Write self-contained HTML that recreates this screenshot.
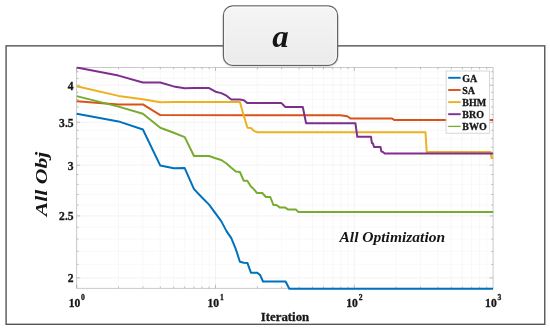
<!DOCTYPE html>
<html><head><meta charset="utf-8"><title>a</title>
<style>
html,body{margin:0;padding:0;background:#fff;}
body{width:550px;height:329px;position:relative;overflow:hidden;font-family:"Liberation Serif",serif;}
.t{font-family:"Liberation Serif",serif;font-weight:bold;fill:#161616;stroke:#161616;stroke-width:0.3px;}
.ti{font-family:"Liberation Serif",serif;font-weight:bold;font-style:italic;fill:#151515;}
</style></head><body>
<svg width="550" height="329" viewBox="0 0 550 329" style="position:absolute;left:0;top:0">
<defs><linearGradient id="lg" x1="0" y1="0" x2="0" y2="1"><stop offset="0" stop-color="#f5f5f5"/><stop offset="1" stop-color="#ebebeb"/></linearGradient><filter id="sh" x="-10%" y="-10%" width="120%" height="130%"><feGaussianBlur stdDeviation="1"/></filter></defs>
<rect x="6.1" y="45.85" width="538.65" height="278.45" fill="none" stroke="#555" stroke-width="1.4"/>
<line x1="118.5" y1="67.5" x2="118.5" y2="288.3" stroke="#f6f6f6" stroke-width="0.8"/>
<line x1="142.9" y1="67.5" x2="142.9" y2="288.3" stroke="#f6f6f6" stroke-width="0.8"/>
<line x1="160.3" y1="67.5" x2="160.3" y2="288.3" stroke="#f6f6f6" stroke-width="0.8"/>
<line x1="173.7" y1="67.5" x2="173.7" y2="288.3" stroke="#f6f6f6" stroke-width="0.8"/>
<line x1="184.7" y1="67.5" x2="184.7" y2="288.3" stroke="#f6f6f6" stroke-width="0.8"/>
<line x1="194.0" y1="67.5" x2="194.0" y2="288.3" stroke="#f6f6f6" stroke-width="0.8"/>
<line x1="202.0" y1="67.5" x2="202.0" y2="288.3" stroke="#f6f6f6" stroke-width="0.8"/>
<line x1="209.1" y1="67.5" x2="209.1" y2="288.3" stroke="#f6f6f6" stroke-width="0.8"/>
<line x1="215.5" y1="67.5" x2="215.5" y2="288.3" stroke="#efefef" stroke-width="0.8"/>
<line x1="257.3" y1="67.5" x2="257.3" y2="288.3" stroke="#f6f6f6" stroke-width="0.8"/>
<line x1="281.7" y1="67.5" x2="281.7" y2="288.3" stroke="#f6f6f6" stroke-width="0.8"/>
<line x1="299.1" y1="67.5" x2="299.1" y2="288.3" stroke="#f6f6f6" stroke-width="0.8"/>
<line x1="312.5" y1="67.5" x2="312.5" y2="288.3" stroke="#f6f6f6" stroke-width="0.8"/>
<line x1="323.5" y1="67.5" x2="323.5" y2="288.3" stroke="#f6f6f6" stroke-width="0.8"/>
<line x1="332.8" y1="67.5" x2="332.8" y2="288.3" stroke="#f6f6f6" stroke-width="0.8"/>
<line x1="340.8" y1="67.5" x2="340.8" y2="288.3" stroke="#f6f6f6" stroke-width="0.8"/>
<line x1="347.9" y1="67.5" x2="347.9" y2="288.3" stroke="#f6f6f6" stroke-width="0.8"/>
<line x1="354.3" y1="67.5" x2="354.3" y2="288.3" stroke="#efefef" stroke-width="0.8"/>
<line x1="396.1" y1="67.5" x2="396.1" y2="288.3" stroke="#f6f6f6" stroke-width="0.8"/>
<line x1="420.5" y1="67.5" x2="420.5" y2="288.3" stroke="#f6f6f6" stroke-width="0.8"/>
<line x1="437.9" y1="67.5" x2="437.9" y2="288.3" stroke="#f6f6f6" stroke-width="0.8"/>
<line x1="451.3" y1="67.5" x2="451.3" y2="288.3" stroke="#f6f6f6" stroke-width="0.8"/>
<line x1="462.3" y1="67.5" x2="462.3" y2="288.3" stroke="#f6f6f6" stroke-width="0.8"/>
<line x1="471.6" y1="67.5" x2="471.6" y2="288.3" stroke="#f6f6f6" stroke-width="0.8"/>
<line x1="479.6" y1="67.5" x2="479.6" y2="288.3" stroke="#f6f6f6" stroke-width="0.8"/>
<line x1="486.7" y1="67.5" x2="486.7" y2="288.3" stroke="#f6f6f6" stroke-width="0.8"/>
<line x1="76.7" y1="277.9" x2="493.1" y2="277.9" stroke="#f0f0f0" stroke-width="0.8"/>
<line x1="76.7" y1="264.4" x2="493.1" y2="264.4" stroke="#f7f7f7" stroke-width="0.8"/>
<line x1="76.7" y1="251.4" x2="493.1" y2="251.4" stroke="#f7f7f7" stroke-width="0.8"/>
<line x1="76.7" y1="239.1" x2="493.1" y2="239.1" stroke="#f7f7f7" stroke-width="0.8"/>
<line x1="76.7" y1="227.2" x2="493.1" y2="227.2" stroke="#f7f7f7" stroke-width="0.8"/>
<line x1="76.7" y1="215.9" x2="493.1" y2="215.9" stroke="#f0f0f0" stroke-width="0.8"/>
<line x1="76.7" y1="205.0" x2="493.1" y2="205.0" stroke="#f7f7f7" stroke-width="0.8"/>
<line x1="76.7" y1="194.5" x2="493.1" y2="194.5" stroke="#f7f7f7" stroke-width="0.8"/>
<line x1="76.7" y1="184.4" x2="493.1" y2="184.4" stroke="#f7f7f7" stroke-width="0.8"/>
<line x1="76.7" y1="174.6" x2="493.1" y2="174.6" stroke="#f7f7f7" stroke-width="0.8"/>
<line x1="76.7" y1="165.2" x2="493.1" y2="165.2" stroke="#f0f0f0" stroke-width="0.8"/>
<line x1="76.7" y1="156.1" x2="493.1" y2="156.1" stroke="#f7f7f7" stroke-width="0.8"/>
<line x1="76.7" y1="147.3" x2="493.1" y2="147.3" stroke="#f7f7f7" stroke-width="0.8"/>
<line x1="76.7" y1="138.7" x2="493.1" y2="138.7" stroke="#f7f7f7" stroke-width="0.8"/>
<line x1="76.7" y1="130.4" x2="493.1" y2="130.4" stroke="#f7f7f7" stroke-width="0.8"/>
<line x1="76.7" y1="122.3" x2="493.1" y2="122.3" stroke="#f0f0f0" stroke-width="0.8"/>
<line x1="76.7" y1="114.5" x2="493.1" y2="114.5" stroke="#f7f7f7" stroke-width="0.8"/>
<line x1="76.7" y1="106.9" x2="493.1" y2="106.9" stroke="#f7f7f7" stroke-width="0.8"/>
<line x1="76.7" y1="99.5" x2="493.1" y2="99.5" stroke="#f7f7f7" stroke-width="0.8"/>
<line x1="76.7" y1="92.3" x2="493.1" y2="92.3" stroke="#f7f7f7" stroke-width="0.8"/>
<line x1="76.7" y1="85.2" x2="493.1" y2="85.2" stroke="#f0f0f0" stroke-width="0.8"/>
<line x1="76.7" y1="78.4" x2="493.1" y2="78.4" stroke="#f7f7f7" stroke-width="0.8"/>
<line x1="76.7" y1="71.7" x2="493.1" y2="71.7" stroke="#f7f7f7" stroke-width="0.8"/>
<clipPath id="c"><rect x="75.7" y="66.5" width="418.40000000000003" height="223.4"/></clipPath>
<rect x="76.7" y="67.5" width="416.4" height="220.8" fill="none" stroke="#bcbcbc" stroke-width="0.8"/>
<line x1="76.7" y1="288.3" x2="76.7" y2="284.8" stroke="#999" stroke-width="0.6"/>
<line x1="76.7" y1="67.5" x2="76.7" y2="71.0" stroke="#999" stroke-width="0.6"/>
<line x1="118.5" y1="288.3" x2="118.5" y2="286.5" stroke="#999" stroke-width="0.6"/>
<line x1="118.5" y1="67.5" x2="118.5" y2="69.3" stroke="#999" stroke-width="0.6"/>
<line x1="142.9" y1="288.3" x2="142.9" y2="286.5" stroke="#999" stroke-width="0.6"/>
<line x1="142.9" y1="67.5" x2="142.9" y2="69.3" stroke="#999" stroke-width="0.6"/>
<line x1="160.3" y1="288.3" x2="160.3" y2="286.5" stroke="#999" stroke-width="0.6"/>
<line x1="160.3" y1="67.5" x2="160.3" y2="69.3" stroke="#999" stroke-width="0.6"/>
<line x1="173.7" y1="288.3" x2="173.7" y2="286.5" stroke="#999" stroke-width="0.6"/>
<line x1="173.7" y1="67.5" x2="173.7" y2="69.3" stroke="#999" stroke-width="0.6"/>
<line x1="184.7" y1="288.3" x2="184.7" y2="286.5" stroke="#999" stroke-width="0.6"/>
<line x1="184.7" y1="67.5" x2="184.7" y2="69.3" stroke="#999" stroke-width="0.6"/>
<line x1="194.0" y1="288.3" x2="194.0" y2="286.5" stroke="#999" stroke-width="0.6"/>
<line x1="194.0" y1="67.5" x2="194.0" y2="69.3" stroke="#999" stroke-width="0.6"/>
<line x1="202.0" y1="288.3" x2="202.0" y2="286.5" stroke="#999" stroke-width="0.6"/>
<line x1="202.0" y1="67.5" x2="202.0" y2="69.3" stroke="#999" stroke-width="0.6"/>
<line x1="209.1" y1="288.3" x2="209.1" y2="286.5" stroke="#999" stroke-width="0.6"/>
<line x1="209.1" y1="67.5" x2="209.1" y2="69.3" stroke="#999" stroke-width="0.6"/>
<line x1="215.5" y1="288.3" x2="215.5" y2="284.8" stroke="#999" stroke-width="0.6"/>
<line x1="215.5" y1="67.5" x2="215.5" y2="71.0" stroke="#999" stroke-width="0.6"/>
<line x1="257.3" y1="288.3" x2="257.3" y2="286.5" stroke="#999" stroke-width="0.6"/>
<line x1="257.3" y1="67.5" x2="257.3" y2="69.3" stroke="#999" stroke-width="0.6"/>
<line x1="281.7" y1="288.3" x2="281.7" y2="286.5" stroke="#999" stroke-width="0.6"/>
<line x1="281.7" y1="67.5" x2="281.7" y2="69.3" stroke="#999" stroke-width="0.6"/>
<line x1="299.1" y1="288.3" x2="299.1" y2="286.5" stroke="#999" stroke-width="0.6"/>
<line x1="299.1" y1="67.5" x2="299.1" y2="69.3" stroke="#999" stroke-width="0.6"/>
<line x1="312.5" y1="288.3" x2="312.5" y2="286.5" stroke="#999" stroke-width="0.6"/>
<line x1="312.5" y1="67.5" x2="312.5" y2="69.3" stroke="#999" stroke-width="0.6"/>
<line x1="323.5" y1="288.3" x2="323.5" y2="286.5" stroke="#999" stroke-width="0.6"/>
<line x1="323.5" y1="67.5" x2="323.5" y2="69.3" stroke="#999" stroke-width="0.6"/>
<line x1="332.8" y1="288.3" x2="332.8" y2="286.5" stroke="#999" stroke-width="0.6"/>
<line x1="332.8" y1="67.5" x2="332.8" y2="69.3" stroke="#999" stroke-width="0.6"/>
<line x1="340.8" y1="288.3" x2="340.8" y2="286.5" stroke="#999" stroke-width="0.6"/>
<line x1="340.8" y1="67.5" x2="340.8" y2="69.3" stroke="#999" stroke-width="0.6"/>
<line x1="347.9" y1="288.3" x2="347.9" y2="286.5" stroke="#999" stroke-width="0.6"/>
<line x1="347.9" y1="67.5" x2="347.9" y2="69.3" stroke="#999" stroke-width="0.6"/>
<line x1="354.3" y1="288.3" x2="354.3" y2="284.8" stroke="#999" stroke-width="0.6"/>
<line x1="354.3" y1="67.5" x2="354.3" y2="71.0" stroke="#999" stroke-width="0.6"/>
<line x1="396.1" y1="288.3" x2="396.1" y2="286.5" stroke="#999" stroke-width="0.6"/>
<line x1="396.1" y1="67.5" x2="396.1" y2="69.3" stroke="#999" stroke-width="0.6"/>
<line x1="420.5" y1="288.3" x2="420.5" y2="286.5" stroke="#999" stroke-width="0.6"/>
<line x1="420.5" y1="67.5" x2="420.5" y2="69.3" stroke="#999" stroke-width="0.6"/>
<line x1="437.9" y1="288.3" x2="437.9" y2="286.5" stroke="#999" stroke-width="0.6"/>
<line x1="437.9" y1="67.5" x2="437.9" y2="69.3" stroke="#999" stroke-width="0.6"/>
<line x1="451.3" y1="288.3" x2="451.3" y2="286.5" stroke="#999" stroke-width="0.6"/>
<line x1="451.3" y1="67.5" x2="451.3" y2="69.3" stroke="#999" stroke-width="0.6"/>
<line x1="462.3" y1="288.3" x2="462.3" y2="286.5" stroke="#999" stroke-width="0.6"/>
<line x1="462.3" y1="67.5" x2="462.3" y2="69.3" stroke="#999" stroke-width="0.6"/>
<line x1="471.6" y1="288.3" x2="471.6" y2="286.5" stroke="#999" stroke-width="0.6"/>
<line x1="471.6" y1="67.5" x2="471.6" y2="69.3" stroke="#999" stroke-width="0.6"/>
<line x1="479.6" y1="288.3" x2="479.6" y2="286.5" stroke="#999" stroke-width="0.6"/>
<line x1="479.6" y1="67.5" x2="479.6" y2="69.3" stroke="#999" stroke-width="0.6"/>
<line x1="486.7" y1="288.3" x2="486.7" y2="286.5" stroke="#999" stroke-width="0.6"/>
<line x1="486.7" y1="67.5" x2="486.7" y2="69.3" stroke="#999" stroke-width="0.6"/>
<line x1="76.7" y1="277.9" x2="80.2" y2="277.9" stroke="#999" stroke-width="0.6"/>
<line x1="493.1" y1="277.9" x2="489.6" y2="277.9" stroke="#999" stroke-width="0.6"/>
<line x1="76.7" y1="264.4" x2="78.5" y2="264.4" stroke="#999" stroke-width="0.6"/>
<line x1="493.1" y1="264.4" x2="491.3" y2="264.4" stroke="#999" stroke-width="0.6"/>
<line x1="76.7" y1="251.4" x2="78.5" y2="251.4" stroke="#999" stroke-width="0.6"/>
<line x1="493.1" y1="251.4" x2="491.3" y2="251.4" stroke="#999" stroke-width="0.6"/>
<line x1="76.7" y1="239.1" x2="78.5" y2="239.1" stroke="#999" stroke-width="0.6"/>
<line x1="493.1" y1="239.1" x2="491.3" y2="239.1" stroke="#999" stroke-width="0.6"/>
<line x1="76.7" y1="227.2" x2="78.5" y2="227.2" stroke="#999" stroke-width="0.6"/>
<line x1="493.1" y1="227.2" x2="491.3" y2="227.2" stroke="#999" stroke-width="0.6"/>
<line x1="76.7" y1="215.9" x2="80.2" y2="215.9" stroke="#999" stroke-width="0.6"/>
<line x1="493.1" y1="215.9" x2="489.6" y2="215.9" stroke="#999" stroke-width="0.6"/>
<line x1="76.7" y1="205.0" x2="78.5" y2="205.0" stroke="#999" stroke-width="0.6"/>
<line x1="493.1" y1="205.0" x2="491.3" y2="205.0" stroke="#999" stroke-width="0.6"/>
<line x1="76.7" y1="194.5" x2="78.5" y2="194.5" stroke="#999" stroke-width="0.6"/>
<line x1="493.1" y1="194.5" x2="491.3" y2="194.5" stroke="#999" stroke-width="0.6"/>
<line x1="76.7" y1="184.4" x2="78.5" y2="184.4" stroke="#999" stroke-width="0.6"/>
<line x1="493.1" y1="184.4" x2="491.3" y2="184.4" stroke="#999" stroke-width="0.6"/>
<line x1="76.7" y1="174.6" x2="78.5" y2="174.6" stroke="#999" stroke-width="0.6"/>
<line x1="493.1" y1="174.6" x2="491.3" y2="174.6" stroke="#999" stroke-width="0.6"/>
<line x1="76.7" y1="165.2" x2="80.2" y2="165.2" stroke="#999" stroke-width="0.6"/>
<line x1="493.1" y1="165.2" x2="489.6" y2="165.2" stroke="#999" stroke-width="0.6"/>
<line x1="76.7" y1="156.1" x2="78.5" y2="156.1" stroke="#999" stroke-width="0.6"/>
<line x1="493.1" y1="156.1" x2="491.3" y2="156.1" stroke="#999" stroke-width="0.6"/>
<line x1="76.7" y1="147.3" x2="78.5" y2="147.3" stroke="#999" stroke-width="0.6"/>
<line x1="493.1" y1="147.3" x2="491.3" y2="147.3" stroke="#999" stroke-width="0.6"/>
<line x1="76.7" y1="138.7" x2="78.5" y2="138.7" stroke="#999" stroke-width="0.6"/>
<line x1="493.1" y1="138.7" x2="491.3" y2="138.7" stroke="#999" stroke-width="0.6"/>
<line x1="76.7" y1="130.4" x2="78.5" y2="130.4" stroke="#999" stroke-width="0.6"/>
<line x1="493.1" y1="130.4" x2="491.3" y2="130.4" stroke="#999" stroke-width="0.6"/>
<line x1="76.7" y1="122.3" x2="80.2" y2="122.3" stroke="#999" stroke-width="0.6"/>
<line x1="493.1" y1="122.3" x2="489.6" y2="122.3" stroke="#999" stroke-width="0.6"/>
<line x1="76.7" y1="114.5" x2="78.5" y2="114.5" stroke="#999" stroke-width="0.6"/>
<line x1="493.1" y1="114.5" x2="491.3" y2="114.5" stroke="#999" stroke-width="0.6"/>
<line x1="76.7" y1="106.9" x2="78.5" y2="106.9" stroke="#999" stroke-width="0.6"/>
<line x1="493.1" y1="106.9" x2="491.3" y2="106.9" stroke="#999" stroke-width="0.6"/>
<line x1="76.7" y1="99.5" x2="78.5" y2="99.5" stroke="#999" stroke-width="0.6"/>
<line x1="493.1" y1="99.5" x2="491.3" y2="99.5" stroke="#999" stroke-width="0.6"/>
<line x1="76.7" y1="92.3" x2="78.5" y2="92.3" stroke="#999" stroke-width="0.6"/>
<line x1="493.1" y1="92.3" x2="491.3" y2="92.3" stroke="#999" stroke-width="0.6"/>
<line x1="76.7" y1="85.2" x2="80.2" y2="85.2" stroke="#999" stroke-width="0.6"/>
<line x1="493.1" y1="85.2" x2="489.6" y2="85.2" stroke="#999" stroke-width="0.6"/>
<line x1="76.7" y1="78.4" x2="78.5" y2="78.4" stroke="#999" stroke-width="0.6"/>
<line x1="493.1" y1="78.4" x2="491.3" y2="78.4" stroke="#999" stroke-width="0.6"/>
<line x1="76.7" y1="71.7" x2="78.5" y2="71.7" stroke="#999" stroke-width="0.6"/>
<line x1="493.1" y1="71.7" x2="491.3" y2="71.7" stroke="#999" stroke-width="0.6"/>
<g clip-path="url(#c)">
<polyline points="76.7,113.7 118.5,121.4 142.9,129.5 160.3,165.6 173.7,168.2 184.7,168.1 194.0,189.1 202.0,197.5 209.1,204.6 215.5,213.4 221.2,221.1 226.5,231.1 231.3,238.1 235.8,249.1 239.9,261.7 243.8,262.8 247.5,263.1 250.9,272.7 254.2,272.7 257.3,272.8 260.2,275.1 263.0,281.5 285.6,281.5 289.3,288.8 493.1,288.8" fill="none" stroke="#0072BD" stroke-width="2" stroke-linejoin="round"/>
<polyline points="76.7,101.2 118.5,104.6 142.9,104.4 160.3,115.1 340.3,115.2 347.3,116.2 350.3,118.4 392.2,118.6 394.2,120.0 493.1,120.0" fill="none" stroke="#D95319" stroke-width="2" stroke-linejoin="round"/>
<polyline points="76.7,86.3 118.5,95.9 142.9,99.2 160.3,102.2 173.7,102.0 239.9,102.0 243.8,115.9 247.5,127.7 250.9,128.1 254.2,131.1 257.3,132.2 425.5,132.2 426.7,152.0 490.6,152.0 491.6,158.0 493.1,158.0" fill="none" stroke="#EDB120" stroke-width="2" stroke-linejoin="round"/>
<polyline points="76.7,67.6 118.5,75.6 142.9,82.5 160.3,82.5 173.7,86.4 184.7,88.3 194.0,88.1 209.1,88.1 215.5,91.7 221.2,93.1 226.5,95.7 231.3,99.5 239.9,99.5 243.8,100.2 247.5,103.1 281.5,103.1 285.3,107.0 302.8,107.0 306.1,123.2 355.4,123.2 357.3,136.8 371.0,136.8 371.9,143.2 373.0,143.4 374.0,147.0 380.5,147.0 381.4,151.6 382.6,151.8 384.7,153.6 493.1,153.6" fill="none" stroke="#7E2F8E" stroke-width="2" stroke-linejoin="round"/>
<polyline points="76.7,96.1 118.5,106.6 142.9,113.7 160.3,127.7 173.7,132.8 184.7,137.1 194.0,156.0 209.1,156.0 215.5,158.2 221.2,160.0 226.5,163.5 231.3,167.8 235.8,171.6 239.9,172.0 243.8,180.8 247.3,180.8 250.9,186.5 252.6,187.9 257.0,193.0 262.3,193.0 265.9,197.0 270.3,197.0 273.4,205.0 276.4,205.0 280.0,207.6 285.3,207.6 287.9,209.5 295.8,209.6 298.5,212.0 493.1,212.0" fill="none" stroke="#77AC30" stroke-width="2" stroke-linejoin="round"/>
</g>
<rect x="446.1" y="71.0" width="43.5" height="62.2" fill="#fff" stroke="#cdcdcd" stroke-width="0.8"/>
<line x1="448.2" y1="77.8" x2="460.7" y2="77.8" stroke="#0072BD" stroke-width="1.9"/>
<text x="462.3" y="81.8" class="t" font-size="10">GA</text>
<line x1="448.2" y1="90.0" x2="460.7" y2="90.0" stroke="#D95319" stroke-width="1.9"/>
<text x="462.3" y="94.0" class="t" font-size="10">SA</text>
<line x1="448.2" y1="102.1" x2="460.7" y2="102.1" stroke="#EDB120" stroke-width="1.9"/>
<text x="462.3" y="106.1" class="t" font-size="10">BHM</text>
<line x1="448.2" y1="114.2" x2="460.7" y2="114.2" stroke="#7E2F8E" stroke-width="1.9"/>
<text x="462.3" y="118.2" class="t" font-size="10">BRO</text>
<line x1="448.2" y1="126.4" x2="460.7" y2="126.4" stroke="#77AC30" stroke-width="1.3"/>
<text x="462.3" y="130.4" class="t" font-size="10">BWO</text>
<text x="73.6" y="89.6" class="t" font-size="11.6" text-anchor="end">4</text>
<text x="73.6" y="126.7" class="t" font-size="11.6" text-anchor="end">3.5</text>
<text x="73.6" y="169.6" class="t" font-size="11.6" text-anchor="end">3</text>
<text x="73.6" y="220.3" class="t" font-size="11.6" text-anchor="end">2.5</text>
<text x="73.6" y="282.3" class="t" font-size="11.6" text-anchor="end">2</text>
<text x="76.8" y="306.6" class="t" font-size="11.6" text-anchor="middle">10<tspan dx="0.8" dy="-6.3" font-size="7.6">0</tspan></text>
<text x="215.6" y="306.6" class="t" font-size="11.6" text-anchor="middle">10<tspan dx="0.8" dy="-6.3" font-size="7.6">1</tspan></text>
<text x="354.4" y="306.6" class="t" font-size="11.6" text-anchor="middle">10<tspan dx="0.8" dy="-6.3" font-size="7.6">2</tspan></text>
<text x="493.2" y="306.6" class="t" font-size="11.6" text-anchor="middle">10<tspan dx="0.8" dy="-6.3" font-size="7.6">3</tspan></text>
<text x="285" y="321.0" class="t" font-size="12.8" text-anchor="middle">Iteration</text>
<text transform="translate(46.7,216.3) rotate(-90)" class="ti" font-size="17.6" textLength="64.7" lengthAdjust="spacingAndGlyphs">All Obj</text>
<text x="339.5" y="242.0" class="ti" font-size="14" textLength="105.6" lengthAdjust="spacingAndGlyphs">All Optimization</text>
<rect x="223.6" y="7.2" width="114" height="59.2" rx="9" fill="#000" opacity="0.22" filter="url(#sh)"/>
<rect x="223.45" y="5.95" width="114.1" height="59.4" rx="9.2" fill="url(#lg)" stroke="#666" stroke-width="1.3"/>
<rect x="224.7" y="7.2" width="111.6" height="56.9" rx="8.1" fill="none" stroke="#fff" stroke-opacity="0.75" stroke-width="1"/>
<text x="280.4" y="47" class="ti" font-size="31" text-anchor="middle" transform="translate(280.4 0) scale(1.06 1) translate(-280.4 0)">a</text>
</svg>
</body></html>
